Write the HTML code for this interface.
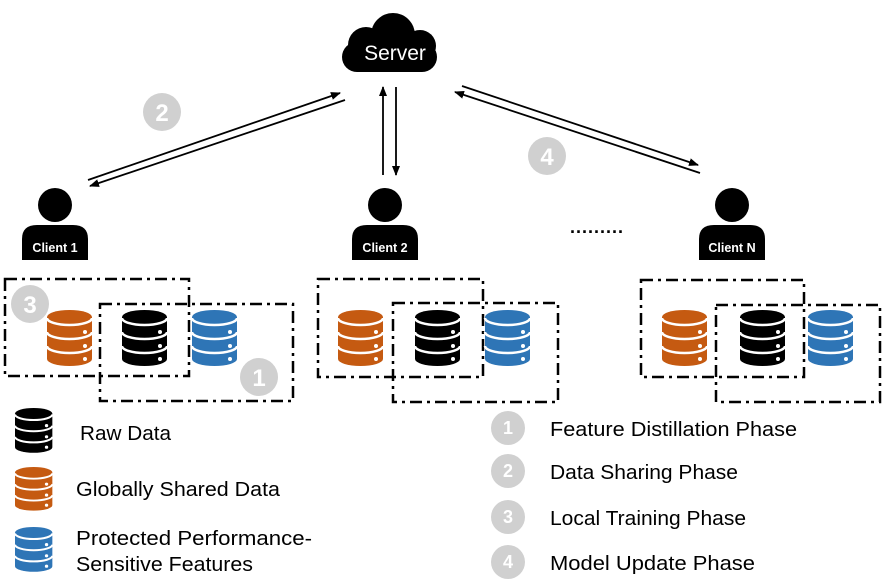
<!DOCTYPE html>
<html><head><meta charset="utf-8"><style>
html,body{margin:0;padding:0;background:#fff}
svg{display:block}
text{font-family:"Liberation Sans",sans-serif}
</style></head><body>
<svg width="884" height="582" viewBox="0 0 884 582" xmlns="http://www.w3.org/2000/svg">
<defs>
<marker id="ah" markerWidth="10" markerHeight="8" refX="9" refY="4" orient="auto" markerUnits="userSpaceOnUse">
<path d="M0,0 L10,4 L0,8 z" fill="#000"/></marker>
<g id="db">
<path d="M0,7 A22.5,7 0 0 1 45,7 L45,49 A22.5,7 0 0 1 0,49 Z"/>
<path d="M0,8 A22.5,7 0 0 0 45,8 M0,22 A22.5,7 0 0 0 45,22 M0,36 A22.5,7 0 0 0 45,36" fill="none" stroke="#fff" stroke-width="2.5"/>
<circle cx="38" cy="22" r="2" fill="#fff"/><circle cx="38" cy="36" r="2" fill="#fff"/><circle cx="38" cy="49" r="2" fill="#fff"/>
</g>
<g id="person">
<circle cx="0" cy="-20" r="17"/>
<path d="M-33,35 L-33,14 Q-33,0 -18,0 L18,0 Q33,0 33,14 L33,35 Z"/>
</g>
</defs>

<!-- Cloud -->
<g fill="#000">
<circle cx="366" cy="45" r="18"/><circle cx="393" cy="35" r="22"/><circle cx="420" cy="46" r="16"/>
<rect x="342" y="42" width="95" height="30" rx="15"/>
</g>
<text x="395" y="60" fill="#fff" font-size="21" text-anchor="middle">Server</text>

<!-- arrows -->
<g stroke="#000" stroke-width="1.8" fill="none">
<line x1="88" y1="180" x2="340" y2="93" marker-end="url(#ah)"/>
<line x1="345" y1="100" x2="90" y2="186" marker-end="url(#ah)"/>
<line x1="383" y1="175" x2="383" y2="87" marker-end="url(#ah)"/>
<line x1="396" y1="87" x2="396" y2="175" marker-end="url(#ah)"/>
<line x1="700" y1="173" x2="455" y2="92" marker-end="url(#ah)"/>
<line x1="462" y1="86" x2="698" y2="165" marker-end="url(#ah)"/>
</g>

<!-- grey circles -->
<g fill="#d0d0d0"><circle cx="162" cy="112" r="19"/><circle cx="547" cy="156" r="19"/><circle cx="30" cy="304" r="19"/><circle cx="259" cy="377" r="19"/>
<circle cx="508" cy="428" r="17"/><circle cx="508" cy="471" r="17"/><circle cx="508" cy="517" r="17"/><circle cx="508" cy="562" r="17"/></g>
<g fill="#fff" font-size="24" font-weight="bold" text-anchor="middle">
<text x="162" y="121">2</text><text x="547" y="165">4</text><text x="30" y="313">3</text><text x="259" y="386">1</text></g>
<g fill="#fff" font-size="18" font-weight="bold" text-anchor="middle">
<text x="508" y="434">1</text><text x="508" y="477">2</text><text x="508" y="523">3</text><text x="508" y="568">4</text></g>

<!-- persons -->
<use href="#person" x="55" y="225"/>
<use href="#person" x="385" y="225"/>
<use href="#person" x="732" y="225"/>
<g fill="#fff" font-size="12.5" font-weight="bold" text-anchor="middle">
<text x="55" y="252">Client 1</text><text x="385" y="252">Client 2</text><text x="732" y="252">Client N</text></g>
<text x="597" y="233" font-size="18" font-weight="bold" text-anchor="middle" letter-spacing="1">.........</text>

<!-- boxes -->
<g fill="none" stroke="#000" stroke-width="2.5" stroke-dasharray="12,5,3,5">
<rect x="5" y="279" width="184" height="97"/>
<rect x="100" y="304" width="193" height="97"/>
<rect x="318" y="279" width="165" height="98"/>
<rect x="393" y="303" width="165" height="99"/>
<rect x="641" y="280" width="163" height="97"/>
<rect x="716" y="305" width="164" height="97"/>
</g>

<!-- DBs -->
<use href="#db" x="47" y="310" fill="#c55a11"/>
<use href="#db" x="122" y="310" fill="#000"/>
<use href="#db" x="192" y="310" fill="#2e75b6"/>
<use href="#db" x="338" y="310" fill="#c55a11"/>
<use href="#db" x="415" y="310" fill="#000"/>
<use href="#db" x="485" y="310" fill="#2e75b6"/>
<use href="#db" x="662" y="310" fill="#c55a11"/>
<use href="#db" x="740" y="310" fill="#000"/>
<use href="#db" x="808" y="310" fill="#2e75b6"/>

<!-- legend -->
<g transform="translate(15,408) scale(0.83,0.8)" fill="#000"><use href="#db"/></g>
<g transform="translate(15,467) scale(0.83,0.78)" fill="#c55a11"><use href="#db"/></g>
<g transform="translate(15,527) scale(0.83,0.8)" fill="#2e75b6"><use href="#db"/></g>
<g font-size="20" fill="#000">
<text x="80" y="440" textLength="91" lengthAdjust="spacingAndGlyphs">Raw Data</text>
<text x="76" y="496" textLength="204" lengthAdjust="spacingAndGlyphs">Globally Shared Data</text>
<text x="76" y="545" textLength="236" lengthAdjust="spacingAndGlyphs">Protected Performance-</text>
<text x="76" y="571" textLength="177" lengthAdjust="spacingAndGlyphs">Sensitive Features</text>
<text x="550" y="436" textLength="247" lengthAdjust="spacingAndGlyphs">Feature Distillation Phase</text>
<text x="550" y="479" textLength="188" lengthAdjust="spacingAndGlyphs">Data Sharing Phase</text>
<text x="550" y="525" textLength="196" lengthAdjust="spacingAndGlyphs">Local Training Phase</text>
<text x="550" y="570" textLength="205" lengthAdjust="spacingAndGlyphs">Model Update Phase</text>
</g>
</svg>
</body></html>
